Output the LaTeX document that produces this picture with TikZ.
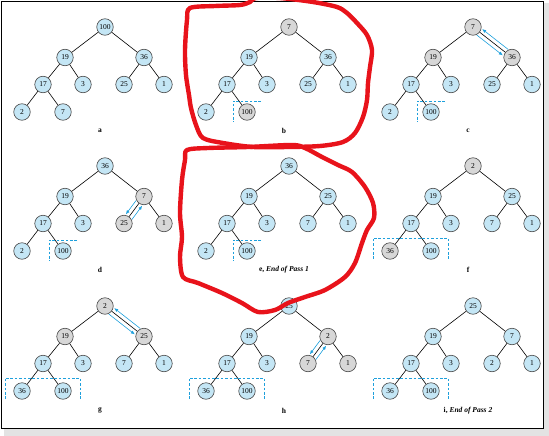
\documentclass[tikz,border=0pt]{standalone}
\usepackage{fontspec}
\setmainfont{Liberation Serif}
\usetikzlibrary{arrows.meta, calc}
\definecolor{heapb}{HTML}{C4E6F5}
\definecolor{heapg}{HTML}{D7D7D7}
\definecolor{heap edge}{HTML}{4A4A4A}
\definecolor{swapline}{HTML}{1EA0DC}
\definecolor{scribble}{HTML}{E8131B}
\tikzset{
  keynode/.style={circle, draw=heap edge, line width=0.6pt, minimum size=16.5pt, inner sep=0pt, font=\fontsize{7.5}{8}\selectfont},
  edge/.style={line width=0.6pt},
  swap/.style={-{Latex[length=4pt,width=3.4pt]}, draw=swapline, line width=0.6pt, shorten <=8pt, shorten >=8.5pt},
  sorted/.style={draw=swapline, dash pattern=on 2.6pt off 1.8pt, line width=0.75pt},
  caption/.style={font=\fontsize{7.5}{9}\selectfont\bfseries},
  redpen/.style={draw=scribble, line width=4.4pt, line join=round}
}
% one heap: #1 name prefix, #2 list of key/colour (b or g)
\newcommand\heap[2]{%
  \foreach \v/\s [count=\i] in {#2} {
    \pgfmathsetmacro\hx{{0,-40,39,-62,-22,19,59,-83,-42}[\i-1]}
    \pgfmathsetmacro\hy{{0,30.5,30.5,57.5,57.5,57.5,57.5,85,85}[\i-1]}
    \node[keynode, fill=heap\s] (#1\i) at (\hx,\hy) {\v};
  }
  \foreach \p/\c in {1/2,1/3,2/4,2/5,3/6,3/7,4/8,4/9}
    \draw[edge] (#1\p) -- (#1\c);
}
% the two swap arrows along parent #1 -- child #2
\newcommand\swapmark[2]{%
  \draw[swap] ($(#1)!4pt!-90:(#2)$) -- ($(#2)!4pt!90:(#1)$);
  \draw[swap] ($(#2)!4pt!-90:(#1)$) -- ($(#1)!4pt!90:(#2)$);
}

\begin{document}
\begin{tikzpicture}[x=1pt,y=-1pt]
  \useasboundingbox (0,0) rectangle (549,436);
  \fill[gray!22] (4,428) rectangle (549,436);
  \fill[gray!22] (544,3) rectangle (549,436);
  \draw[line width=0.8pt] (1.5,1.2) rectangle (543.5,428);

  \begin{scope}[shift={(105,27)}]
    \heap{a}{100/b,19/b,36/b,17/b,3/b,25/b,1/b,2/b,7/b}
    \node[caption] (acap) at (-5,103.5) {a};
  \end{scope}
  \begin{scope}[shift={(289,27)}]
    \heap{b}{7/g,19/b,36/b,17/b,3/b,25/b,1/b,2/b,100/g}
    \node[caption] (bcap) at (-5,103.5) {b};
  \end{scope}
  \begin{scope}[shift={(473,27)}]
    \heap{c}{7/g,19/g,36/g,17/b,3/b,25/b,1/b,2/b,100/b}
    \swapmark{c1}{c3}
    \node[caption] (ccap) at (-5,103.5) {c};
  \end{scope}

  \begin{scope}[shift={(105,166)}]
    \heap{d}{36/b,19/b,7/g,17/b,3/b,25/g,1/g,2/b,100/b}
    \swapmark{d3}{d6}
    \node[caption] (dcap) at (-5,103.5) {d};
  \end{scope}
  \begin{scope}[shift={(289,166)}]
    \heap{e}{36/b,19/b,25/b,17/b,3/b,7/b,1/b,2/b,100/b}
    \node[caption] (ecap) at (-5,103.5) {e, \textit{End of Pass 1}};
  \end{scope}
  \begin{scope}[shift={(473,166)}]
    \heap{f}{2/g,19/b,25/b,17/b,3/b,7/b,1/b,36/g,100/b}
    \node[caption] (fcap) at (-5,103.5) {f};
  \end{scope}

  \begin{scope}[shift={(105,306)}]
    \heap{g}{2/g,19/g,25/g,17/b,3/b,7/b,1/b,36/b,100/b}
    \swapmark{g1}{g3}
    \node[caption] (gcap) at (-5,104.5) {g};
  \end{scope}
  \begin{scope}[shift={(289,306)}]
    \heap{h}{25/b,19/b,2/g,17/b,3/b,7/g,1/g,36/b,100/b}
    \swapmark{h3}{h6}
    \node[caption] (hcap) at (-5,104.5) {h};
  \end{scope}
  \begin{scope}[shift={(473,306)}]
    \heap{i}{25/b,19/b,7/b,17/b,3/b,2/b,1/b,36/b,100/b}
    \node[caption] (icap) at (-5,104.5) {i, \textit{End of Pass 2}};
  \end{scope}

  % sorted part of the array
  \foreach \t in {b,c,d,e}
    \draw[sorted] ($(\t9)+(14,-11)$) -- ($(\t9)+(-14,-11)$) -- ($(\t9)+(-14,10)$);
  \foreach \t in {f,g,h,i}
    \draw[sorted] ($(\t8)+(-17,8)$) -- ($(\t8)+(-17,-13)$) -- ($(\t9)+(17,-13)$) -- ($(\t9)+(17,8)$);

  % hand-drawn marks
  \draw[redpen] plot[smooth cycle, tension=0.5] coordinates {(190,8) (215,6) (240,5) (250,2) (256,-2) (280,-2) (313,2) (337,7) (347,13) (357,23) (367,35) (372,50) (370,67) (368,83) (367,100) (363,117) (355,133) (343,142) (320,146) (287,147) (253,147) (223,143) (203,138) (196,125) (191,108) (189,95) (186,75) (185,50) (187,20)};
  \draw[redpen] plot[smooth cycle, tension=0.5] coordinates {(187,150) (208,148) (248,147) (292,145) (305,148) (322,157) (338,165) (352,172) (365,187) (373,203) (374,218) (367,230) (362,243) (355,263) (345,277) (325,290) (305,297) (288,303) (275,310) (258,312) (242,303) (222,293) (198,283) (183,277) (180,257) (182,237) (180,213) (182,180) (185,160)};
\end{tikzpicture}
\end{document}
